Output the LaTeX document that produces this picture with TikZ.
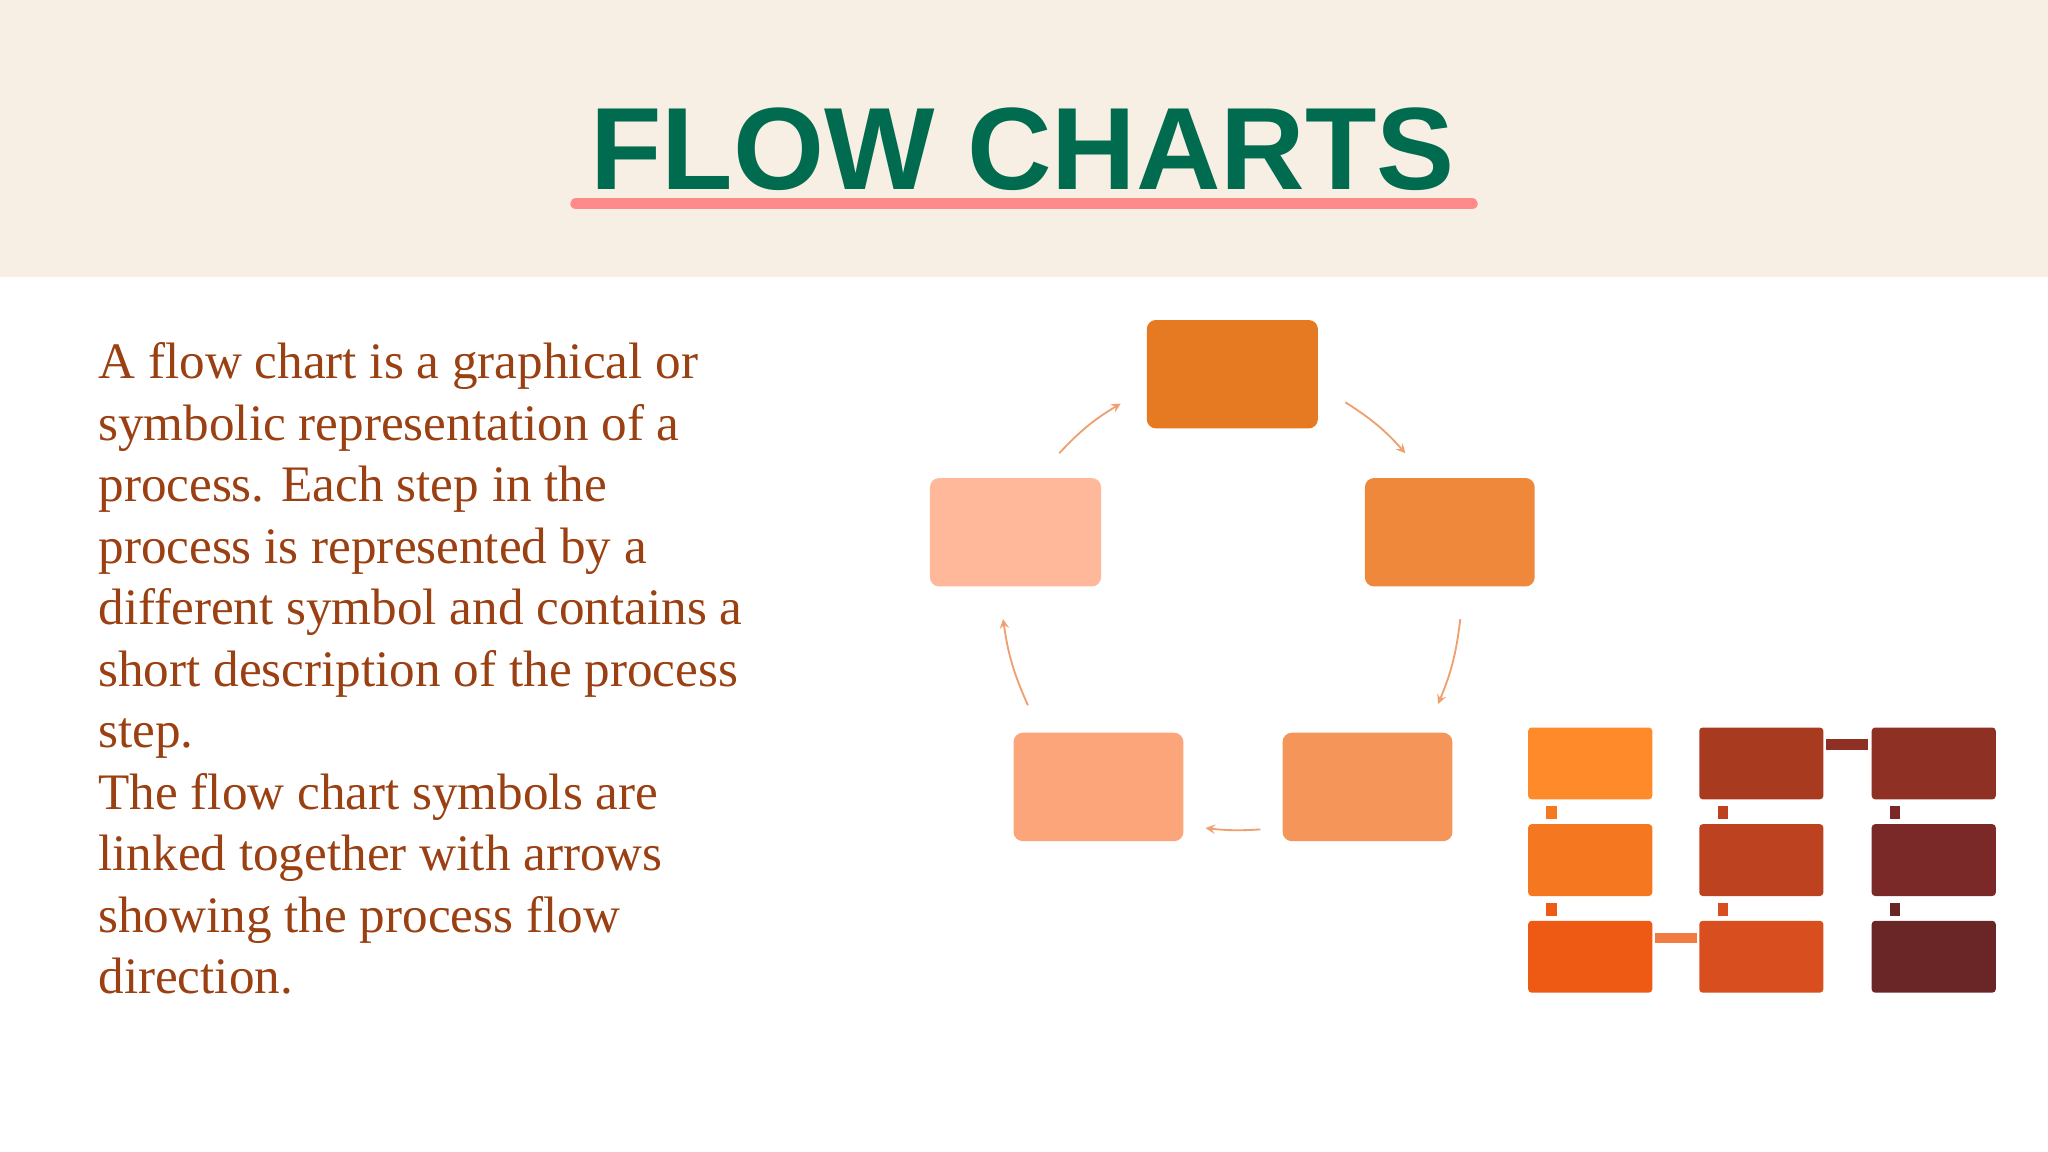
\documentclass[tikz,border=0pt]{standalone}
\usepackage{fontspec}
\setmainfont{Liberation Serif}
\newfontfamily\titlefont{Liberation Sans}
\begin{document}
\begin{tikzpicture}[x=0.02cm,y=-0.02cm,
  cbox/.style={rounded corners=4pt,draw=none},
  gbox/.style={rounded corners=1.5pt,draw=none},
  cyc/.style={draw=arrowc,line width=0.8pt,-stealth},
  lnk/.style={line width=4pt}]
\definecolor{hdr}{HTML}{F8EFE4}
\definecolor{ttl}{HTML}{006B4F}
\definecolor{pink}{HTML}{FF8A8A}
\definecolor{txt}{HTML}{9A4012}
\definecolor{arrowc}{HTML}{F0A070}
\useasboundingbox (0,0) rectangle (1568,882);
\fill[white] (0,0) rectangle (1568,882);
\fill[hdr] (0,0) rectangle (1568,212);
\node[anchor=base,text=ttl,inner sep=0] (title) at (783,145) {\titlefont\bfseries\fontsize{51}{51}\selectfont FLOW CHARTS};
\draw[pink,line width=5pt,line cap=round] (441,156) coordinate (u1) -- (1127,156) coordinate (u2);
\node[anchor=north west,text=txt,align=left,inner sep=0,font=\fontsize{22.3}{26.8}\selectfont] (body) at (75,262) {A flow chart is a graphical or\\symbolic representation of a\\process. Each step in the\\process is represented by a\\different symbol and contains a\\short description of the process\\step.\\The flow chart symbols are\\linked together with arrows\\showing the process flow\\direction.};
% cycle
\definecolor{c1}{HTML}{E67A22}\definecolor{c2}{HTML}{F0883C}\definecolor{c3}{HTML}{F5955A}\definecolor{c4}{HTML}{FCA47A}\definecolor{c5}{HTML}{FFB89A}
\fill[cbox,c1] (878,245) rectangle (1009,328); \coordinate (n1) at (943,286);
\fill[cbox,c2] (1045,366) rectangle (1175,449);
\fill[cbox,c3] (982,561) rectangle (1112,644);
\fill[cbox,c4] (776,561) rectangle (906,644);
\fill[cbox,c5] (712,366) rectangle (843,449);
\coordinate (a1) at (1030,308); \coordinate (b1) at (1076,347);
\coordinate (a2) at (1118,474); \coordinate (b2) at (1101,539);
\coordinate (a3) at (965,635); \coordinate (b3) at (923,634);
\coordinate (a4) at (787,540); \coordinate (b4) at (768,474);
\coordinate (a5) at (811,347); \coordinate (b5) at (858,309);
\draw[cyc] (a1) to[bend left=8] (b1);
\draw[cyc] (a2) to[bend left=8] (b2);
\draw[cyc] (a3) to[bend left=5] (b3);
\draw[cyc] (a4) to[bend left=8] (b4);
\draw[cyc] (a5) to[bend left=8] (b5);
% grid
\definecolor{g11}{HTML}{FF8A2A}\definecolor{g12}{HTML}{F57820}\definecolor{g13}{HTML}{EE5A14}
\definecolor{g21}{HTML}{A83A20}\definecolor{g22}{HTML}{BC4220}\definecolor{g23}{HTML}{D84E1E}
\definecolor{g31}{HTML}{8E3024}\definecolor{g32}{HTML}{7A2828}\definecolor{g33}{HTML}{6A2626}
\foreach \c/\x in {1/1170,2/1301,3/1433}{
  \foreach \r/\y in {1/557,2/631,3/705}{
    \fill[gbox,g\c\r] (\x,\y) rectangle ++(95,55);
  }
  \fill[g\c2] (\x+14,617) rectangle ++(8,10);
  \fill[g\c3] (\x+14,691) rectangle ++(8,10);
}
\fill[g31] (1398,566) rectangle (1430,574);
\fill[g13!80!white] (1267,714) rectangle (1299,722);
\end{tikzpicture}
\end{document}
